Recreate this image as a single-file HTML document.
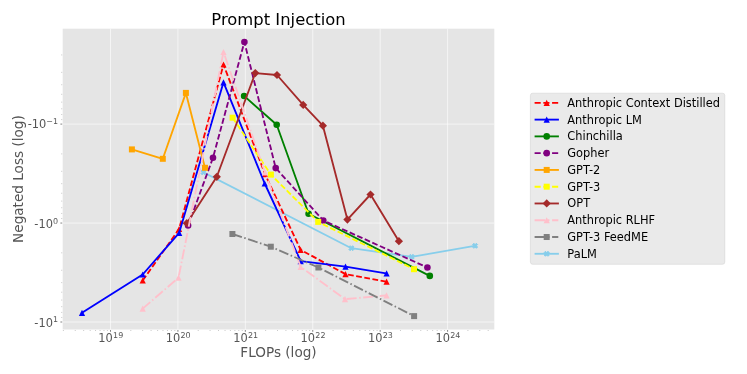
<!DOCTYPE html>
<html lang="en"><head><meta charset="utf-8"><title>Prompt Injection</title>
<style>html,body{margin:0;padding:0;background:#ffffff}body{width:747px;height:374px;overflow:hidden}</style>
</head><body>
<svg width="747" height="374" viewBox="0 0 747 374" style="display:block;font-family:'DejaVu Sans', 'Liberation Sans', sans-serif">
<rect width="747" height="374" fill="#ffffff"/>
<rect x="62.7" y="28.7" width="431.60" height="300.80" fill="#e5e5e5"/>
<path d="M110.50 28.7V329.5M177.92 28.7V329.5M245.34 28.7V329.5M312.76 28.7V329.5M380.18 28.7V329.5M447.60 28.7V329.5M62.7 124.10H494.3M62.7 223.05H494.3M62.7 322.00H494.3" stroke="#ffffff" stroke-width="0.62" fill="none"/>
<path d="M110.50 330.0v1.8M177.92 330.0v1.8M245.34 330.0v1.8M312.76 330.0v1.8M380.18 330.0v1.8M447.60 330.0v1.8M62.2 124.10h-1.8M62.2 223.05h-1.8M62.2 322.00h-1.8" stroke="#555555" stroke-width="0.9" fill="none" opacity="0.8"/>
<path d="M63.38 330.0v0.9M75.25 330.0v0.9M83.67 330.0v0.9M90.20 330.0v0.9M95.54 330.0v0.9M100.06 330.0v0.9M103.97 330.0v0.9M107.42 330.0v0.9M130.80 330.0v0.9M142.67 330.0v0.9M151.09 330.0v0.9M157.62 330.0v0.9M162.96 330.0v0.9M167.48 330.0v0.9M171.39 330.0v0.9M174.84 330.0v0.9M198.22 330.0v0.9M210.09 330.0v0.9M218.51 330.0v0.9M225.04 330.0v0.9M230.38 330.0v0.9M234.90 330.0v0.9M238.81 330.0v0.9M242.26 330.0v0.9M265.64 330.0v0.9M277.51 330.0v0.9M285.93 330.0v0.9M292.46 330.0v0.9M297.80 330.0v0.9M302.32 330.0v0.9M306.23 330.0v0.9M309.68 330.0v0.9M333.06 330.0v0.9M344.93 330.0v0.9M353.35 330.0v0.9M359.88 330.0v0.9M365.22 330.0v0.9M369.74 330.0v0.9M373.65 330.0v0.9M377.10 330.0v0.9M400.48 330.0v0.9M412.35 330.0v0.9M420.77 330.0v0.9M427.30 330.0v0.9M432.64 330.0v0.9M437.16 330.0v0.9M441.07 330.0v0.9M444.52 330.0v0.9M467.90 330.0v0.9M479.77 330.0v0.9M488.19 330.0v0.9M62.2 54.94h-0.9M62.2 72.36h-0.9M62.2 84.72h-0.9M62.2 94.31h-0.9M62.2 102.15h-0.9M62.2 108.77h-0.9M62.2 114.51h-0.9M62.2 119.57h-0.9M62.2 153.89h-0.9M62.2 171.31h-0.9M62.2 183.67h-0.9M62.2 193.26h-0.9M62.2 201.10h-0.9M62.2 207.72h-0.9M62.2 213.46h-0.9M62.2 218.52h-0.9M62.2 252.84h-0.9M62.2 270.26h-0.9M62.2 282.62h-0.9M62.2 292.21h-0.9M62.2 300.05h-0.9M62.2 306.67h-0.9M62.2 312.41h-0.9M62.2 317.47h-0.9" stroke="#555555" stroke-width="0.7" fill="none" opacity="0.5"/>
<clipPath id="c"><rect x="62.7" y="28.7" width="431.60" height="300.80"/></clipPath>
<g clip-path="url(#c)">
<path d="M203.40 172.30L351.40 248.20L411.70 256.80L475.10 245.80" stroke="#87ceeb" stroke-width="1.85" fill="none" stroke-linejoin="round" stroke-linecap="square"/>
<polygon points="202.15,169.80 203.40,171.05 204.65,169.80 205.90,171.05 204.65,172.30 205.90,173.55 204.65,174.80 203.40,173.55 202.15,174.80 200.90,173.55 202.15,172.30 200.90,171.05" fill="#87ceeb" stroke="#87ceeb" stroke-width="1" stroke-linejoin="miter"/><polygon points="350.15,245.70 351.40,246.95 352.65,245.70 353.90,246.95 352.65,248.20 353.90,249.45 352.65,250.70 351.40,249.45 350.15,250.70 348.90,249.45 350.15,248.20 348.90,246.95" fill="#87ceeb" stroke="#87ceeb" stroke-width="1" stroke-linejoin="miter"/><polygon points="410.45,254.30 411.70,255.55 412.95,254.30 414.20,255.55 412.95,256.80 414.20,258.05 412.95,259.30 411.70,258.05 410.45,259.30 409.20,258.05 410.45,256.80 409.20,255.55" fill="#87ceeb" stroke="#87ceeb" stroke-width="1" stroke-linejoin="miter"/><polygon points="473.85,243.30 475.10,244.55 476.35,243.30 477.60,244.55 476.35,245.80 477.60,247.05 476.35,248.30 475.10,247.05 473.85,248.30 472.60,247.05 473.85,245.80 472.60,244.55" fill="#87ceeb" stroke="#87ceeb" stroke-width="1" stroke-linejoin="miter"/>
<path d="M142.70 280.50L179.10 229.00L223.50 64.50L265.00 174.10L300.60 249.80L345.50 274.10L386.60 281.70" stroke="#ff0000" stroke-width="1.85" fill="none" stroke-linejoin="round" stroke-linecap="butt" stroke-dasharray="5.77 2.50"/>
<polygon points="142.70,277.40 139.60,283.60 145.80,283.60" fill="#ff0000"/><polygon points="179.10,225.90 176.00,232.10 182.20,232.10" fill="#ff0000"/><polygon points="223.50,61.40 220.40,67.60 226.60,67.60" fill="#ff0000"/><polygon points="265.00,171.00 261.90,177.20 268.10,177.20" fill="#ff0000"/><polygon points="300.60,246.70 297.50,252.90 303.70,252.90" fill="#ff0000"/><polygon points="345.50,271.00 342.40,277.20 348.60,277.20" fill="#ff0000"/><polygon points="386.60,278.60 383.50,284.80 389.70,284.80" fill="#ff0000"/>
<path d="M82.00 312.80L142.70 274.50L179.20 232.80L223.50 82.30L264.70 183.50L300.70 261.10L345.50 266.70L386.60 273.40" stroke="#0000ff" stroke-width="1.85" fill="none" stroke-linejoin="round" stroke-linecap="square"/>
<polygon points="82.00,309.70 78.90,315.90 85.10,315.90" fill="#0000ff"/><polygon points="142.70,271.40 139.60,277.60 145.80,277.60" fill="#0000ff"/><polygon points="179.20,229.70 176.10,235.90 182.30,235.90" fill="#0000ff"/><polygon points="223.50,79.20 220.40,85.40 226.60,85.40" fill="#0000ff"/><polygon points="264.70,180.40 261.60,186.60 267.80,186.60" fill="#0000ff"/><polygon points="300.70,258.00 297.60,264.20 303.80,264.20" fill="#0000ff"/><polygon points="345.50,263.60 342.40,269.80 348.60,269.80" fill="#0000ff"/><polygon points="386.60,270.30 383.50,276.50 389.70,276.50" fill="#0000ff"/>
<path d="M244.10 96.00L276.70 124.80L308.60 213.80L429.80 275.90" stroke="#008000" stroke-width="1.85" fill="none" stroke-linejoin="round" stroke-linecap="square"/>
<circle cx="244.10" cy="96.00" r="3.3" fill="#008000"/><circle cx="276.70" cy="124.80" r="3.3" fill="#008000"/><circle cx="308.60" cy="213.80" r="3.3" fill="#008000"/><circle cx="429.80" cy="275.90" r="3.3" fill="#008000"/>
<path d="M188.10 225.50L213.00 157.70L244.40 42.00L275.70 168.10L323.30 220.50L427.40 267.50" stroke="#800080" stroke-width="1.85" fill="none" stroke-linejoin="round" stroke-linecap="butt" stroke-dasharray="5.77 2.50"/>
<circle cx="188.10" cy="225.50" r="3.3" fill="#800080"/><circle cx="213.00" cy="157.70" r="3.3" fill="#800080"/><circle cx="244.40" cy="42.00" r="3.3" fill="#800080"/><circle cx="275.70" cy="168.10" r="3.3" fill="#800080"/><circle cx="323.30" cy="220.50" r="3.3" fill="#800080"/><circle cx="427.40" cy="267.50" r="3.3" fill="#800080"/>
<path d="M131.90 149.40L162.80 158.80L185.90 92.90L205.00 167.80" stroke="#ffa500" stroke-width="1.85" fill="none" stroke-linejoin="round" stroke-linecap="square"/>
<rect x="128.90" y="146.40" width="6.00" height="6.00" fill="#ffa500"/><rect x="159.80" y="155.80" width="6.00" height="6.00" fill="#ffa500"/><rect x="182.90" y="89.90" width="6.00" height="6.00" fill="#ffa500"/><rect x="202.00" y="164.80" width="6.00" height="6.00" fill="#ffa500"/>
<path d="M232.60 117.70L270.90 174.60L318.20 221.90L414.00 269.20" stroke="#ffff00" stroke-width="1.85" fill="none" stroke-linejoin="round" stroke-linecap="butt" stroke-dasharray="5.77 2.50"/>
<rect x="229.60" y="114.70" width="6.00" height="6.00" fill="#ffff00"/><rect x="267.90" y="171.60" width="6.00" height="6.00" fill="#ffff00"/><rect x="315.20" y="218.90" width="6.00" height="6.00" fill="#ffff00"/><rect x="411.00" y="266.20" width="6.00" height="6.00" fill="#ffff00"/>
<path d="M186.80 223.20L216.80 176.80L255.30 73.10L277.00 75.00L303.20 104.90L322.90 125.70L347.40 219.60L370.50 194.50L398.90 241.20" stroke="#a52a2a" stroke-width="1.85" fill="none" stroke-linejoin="round" stroke-linecap="square"/>
<polygon points="186.80,219.10 190.90,223.20 186.80,227.30 182.70,223.20" fill="#a52a2a"/><polygon points="216.80,172.70 220.90,176.80 216.80,180.90 212.70,176.80" fill="#a52a2a"/><polygon points="255.30,69.00 259.40,73.10 255.30,77.20 251.20,73.10" fill="#a52a2a"/><polygon points="277.00,70.90 281.10,75.00 277.00,79.10 272.90,75.00" fill="#a52a2a"/><polygon points="303.20,100.80 307.30,104.90 303.20,109.00 299.10,104.90" fill="#a52a2a"/><polygon points="322.90,121.60 327.00,125.70 322.90,129.80 318.80,125.70" fill="#a52a2a"/><polygon points="347.40,215.50 351.50,219.60 347.40,223.70 343.30,219.60" fill="#a52a2a"/><polygon points="370.50,190.40 374.60,194.50 370.50,198.60 366.40,194.50" fill="#a52a2a"/><polygon points="398.90,237.10 403.00,241.20 398.90,245.30 394.80,241.20" fill="#a52a2a"/>
<path d="M142.70 308.60L178.50 277.70L223.50 52.00L265.00 172.50L300.70 266.90L345.00 299.20L386.50 295.40" stroke="#ffc0cb" stroke-width="1.85" fill="none" stroke-linejoin="round" stroke-linecap="butt" stroke-dasharray="9.98 2.50 1.56 2.50"/>
<polygon points="142.70,305.50 139.60,311.70 145.80,311.70" fill="#ffc0cb"/><polygon points="178.50,274.60 175.40,280.80 181.60,280.80" fill="#ffc0cb"/><polygon points="223.50,48.90 220.40,55.10 226.60,55.10" fill="#ffc0cb"/><polygon points="265.00,169.40 261.90,175.60 268.10,175.60" fill="#ffc0cb"/><polygon points="300.70,263.80 297.60,270.00 303.80,270.00" fill="#ffc0cb"/><polygon points="345.00,296.10 341.90,302.30 348.10,302.30" fill="#ffc0cb"/><polygon points="386.50,292.30 383.40,298.50 389.60,298.50" fill="#ffc0cb"/>
<path d="M232.40 234.00L270.80 246.70L318.40 267.50L414.10 316.10" stroke="#808080" stroke-width="1.85" fill="none" stroke-linejoin="round" stroke-linecap="butt" stroke-dasharray="9.98 2.50 1.56 2.50"/>
<rect x="229.40" y="231.00" width="6.00" height="6.00" fill="#808080"/><rect x="267.80" y="243.70" width="6.00" height="6.00" fill="#808080"/><rect x="315.40" y="264.50" width="6.00" height="6.00" fill="#808080"/><rect x="411.10" y="313.10" width="6.00" height="6.00" fill="#808080"/>
</g>
<text x="112.85" y="341.9" font-size="11.4" fill="#555555" text-anchor="end">10</text><text x="113.10" y="338.0" font-size="7.98" fill="#555555">19</text>
<text x="180.27" y="341.9" font-size="11.4" fill="#555555" text-anchor="end">10</text><text x="180.52" y="338.0" font-size="7.98" fill="#555555">20</text>
<text x="247.69" y="341.9" font-size="11.4" fill="#555555" text-anchor="end">10</text><text x="247.94" y="338.0" font-size="7.98" fill="#555555">21</text>
<text x="315.11" y="341.9" font-size="11.4" fill="#555555" text-anchor="end">10</text><text x="315.36" y="338.0" font-size="7.98" fill="#555555">22</text>
<text x="382.53" y="341.9" font-size="11.4" fill="#555555" text-anchor="end">10</text><text x="382.78" y="338.0" font-size="7.98" fill="#555555">23</text>
<text x="449.95" y="341.9" font-size="11.4" fill="#555555" text-anchor="end">10</text><text x="450.20" y="338.0" font-size="7.98" fill="#555555">24</text>
<text x="58" y="128.30" font-size="11.4" fill="#555555" text-anchor="end">-10<tspan dy="-4.3" font-size="7.98">−1</tspan></text>
<text x="58" y="227.85" font-size="11.4" fill="#555555" text-anchor="end">-10<tspan dy="-4.3" font-size="7.98">0</tspan></text>
<text x="58" y="326.50" font-size="11.4" fill="#555555" text-anchor="end">-10<tspan dy="-4.3" font-size="7.98">1</tspan></text>
<text x="278.50" y="356.7" font-size="13.6" fill="#555555" text-anchor="middle">FLOPs (log)</text>
<text transform="translate(23.1 179.10) rotate(-90)" font-size="13.6" fill="#555555" text-anchor="middle">Negated Loss (log)</text>
<text x="278.50" y="24.6" font-size="16.4" fill="#000000" text-anchor="middle">Prompt Injection</text>
<rect x="530.4" y="93.2" width="194.40" height="171.10" rx="2.3" fill="#e5e5e5" fill-opacity="0.8" stroke="#cccccc" stroke-opacity="0.8" stroke-width="0.6"/>
<path d="M534.6 102.85H558.3" stroke="#ff0000" stroke-width="1.85" fill="none" stroke-dasharray="6.10 2.64"/>
<polygon points="546.70,99.75 543.60,105.95 549.80,105.95" fill="#ff0000"/>
<text x="567.3" y="106.80" font-size="11.4" fill="#000000">Anthropic Context Distilled</text>
<path d="M534.6 119.62H558.9" stroke="#0000ff" stroke-width="1.85" fill="none"/>
<polygon points="546.70,116.52 543.60,122.72 549.80,122.72" fill="#0000ff"/>
<text x="567.3" y="123.57" font-size="11.4" fill="#000000">Anthropic LM</text>
<path d="M534.6 136.39H558.9" stroke="#008000" stroke-width="1.85" fill="none"/>
<circle cx="546.70" cy="136.39" r="3.3" fill="#008000"/>
<text x="567.3" y="140.34" font-size="11.4" fill="#000000">Chinchilla</text>
<path d="M534.6 153.16H558.3" stroke="#800080" stroke-width="1.85" fill="none" stroke-dasharray="6.10 2.64"/>
<circle cx="546.70" cy="153.16" r="3.3" fill="#800080"/>
<text x="567.3" y="157.11" font-size="11.4" fill="#000000">Gopher</text>
<path d="M534.6 169.93H558.9" stroke="#ffa500" stroke-width="1.85" fill="none"/>
<rect x="543.70" y="166.93" width="6.00" height="6.00" fill="#ffa500"/>
<text x="567.3" y="173.88" font-size="11.4" fill="#000000">GPT-2</text>
<path d="M534.6 186.70H558.3" stroke="#ffff00" stroke-width="1.85" fill="none" stroke-dasharray="6.10 2.64"/>
<rect x="543.70" y="183.70" width="6.00" height="6.00" fill="#ffff00"/>
<text x="567.3" y="190.65" font-size="11.4" fill="#000000">GPT-3</text>
<path d="M534.6 203.47H558.9" stroke="#a52a2a" stroke-width="1.85" fill="none"/>
<polygon points="546.70,199.37 550.80,203.47 546.70,207.57 542.60,203.47" fill="#a52a2a"/>
<text x="567.3" y="207.42" font-size="11.4" fill="#000000">OPT</text>
<path d="M534.6 220.24H558.3" stroke="#ffc0cb" stroke-width="1.85" fill="none" stroke-dasharray="10.56 2.64 1.65 2.64"/>
<polygon points="546.70,217.14 543.60,223.34 549.80,223.34" fill="#ffc0cb"/>
<text x="567.3" y="224.19" font-size="11.4" fill="#000000">Anthropic RLHF</text>
<path d="M534.6 237.01H558.3" stroke="#808080" stroke-width="1.85" fill="none" stroke-dasharray="10.56 2.64 1.65 2.64"/>
<rect x="543.70" y="234.01" width="6.00" height="6.00" fill="#808080"/>
<text x="567.3" y="240.96" font-size="11.4" fill="#000000">GPT-3 FeedME</text>
<path d="M534.6 253.78H558.9" stroke="#87ceeb" stroke-width="1.85" fill="none"/>
<polygon points="545.45,251.28 546.70,252.53 547.95,251.28 549.20,252.53 547.95,253.78 549.20,255.03 547.95,256.28 546.70,255.03 545.45,256.28 544.20,255.03 545.45,253.78 544.20,252.53" fill="#87ceeb" stroke="#87ceeb" stroke-width="1" stroke-linejoin="miter"/>
<text x="567.3" y="257.73" font-size="11.4" fill="#000000">PaLM</text>
</svg>
</body></html>
